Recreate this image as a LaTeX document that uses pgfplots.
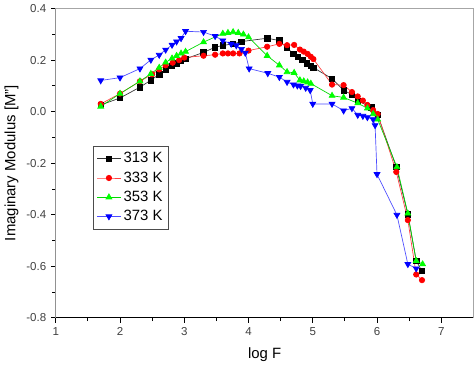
\documentclass[border=0pt]{standalone}
\usepackage{pgfplots}
\pgfplotsset{compat=1.18}
\usepackage{fontspec}
\setmainfont{Liberation Sans}
\begin{document}
\begin{tikzpicture}
\begin{axis}[
  scale only axis, width=308pt, height=228pt,
  xmin=1, xmax=7.5, ymin=-0.8, ymax=0.4,
  xtick={1,2,3,4,5,6,7}, ytick={-0.8,-0.6,-0.4,-0.2,0,0.2,0.4},
  minor x tick num=1, minor y tick num=1,
  xtick pos=bottom, ytick pos=left,
  tick align=outside, major tick length=3.5pt, minor tick length=2.5pt,
  axis line style={gray!70, line width=0.9pt},
  tick style={black, line width=0.6pt},
  /pgf/number format/assume math mode=true,
  /pgf/number format/fixed, /pgf/number format/fixed zerofill, /pgf/number format/precision=1,
  xticklabel style={/pgf/number format/precision=0, /pgf/number format/fixed zerofill=false},
  ticklabel style={font=\fontsize{8.5}{10}\selectfont, text=black!75},
  xlabel={log F}, ylabel={Imaginary Modulus [M'']},
  label style={font=\fontsize{11}{13}\selectfont},
  xlabel style={yshift=-2pt},
  ylabel style={yshift=-1pt},
  legend style={at={(0.09,0.555)}, anchor=north west, font=\fontsize{11}{13}\selectfont,
    draw=black!70, row sep=1pt, inner sep=2.5pt},
  legend cell align=left,
  legend image code/.code={\draw[mark repeat=2,mark phase=2,#1] plot coordinates {(0cm,0cm)(0.3cm,0cm)(0.6cm,0cm)};},
  every axis plot/.append style={line width=0.5pt, mark size=2pt},
]
\addplot[black!80, mark=square*, mark options={fill=black, draw=black, solid}] coordinates {
(1.70,0.026)(2.00,0.053)(2.31,0.095)(2.48,0.122)(2.61,0.145)(2.71,0.164)(2.81,0.178)(2.88,0.188)(2.95,0.197)(3.02,0.205)
(3.30,0.230)(3.48,0.250)(3.60,0.257)(3.76,0.263)(3.89,0.272)(4.29,0.285)(4.48,0.276)(4.60,0.247)(4.70,0.224)(4.77,0.213)
(4.84,0.201)(4.91,0.188)(4.97,0.178)(5.01,0.171)(5.30,0.128)(5.48,0.083)(5.61,0.066)(5.70,0.043)(5.91,0.017)(6.01,-0.013)
(6.30,-0.215)(6.48,-0.399)(6.61,-0.579)(6.70,-0.619)};
\addlegendentry{313 K}
\addplot[red!75, mark=*, mark options={fill=red, draw=red, solid}] coordinates {
(1.70,0.030)(2.00,0.070)(2.31,0.118)(2.50,0.145)(2.61,0.164)(2.71,0.180)(2.82,0.190)(2.92,0.200)(3.00,0.210)
(3.30,0.217)(3.48,0.221)(3.60,0.226)(3.68,0.226)(3.76,0.226)(3.86,0.226)(4.00,0.237)(4.29,0.252)(4.48,0.263)(4.60,0.258)(4.71,0.259)
(4.80,0.241)(4.86,0.233)(4.92,0.224)(4.97,0.213)(5.01,0.204)(5.30,0.105)(5.48,0.103)(5.61,0.076)(5.70,0.059)(5.78,0.043)
(5.85,0.026)(5.94,0.006)(6.01,-0.009)(6.30,-0.234)(6.48,-0.421)(6.61,-0.632)(6.70,-0.654)};
\addlegendentry{333 K}
\addplot[green!85!black, mark=triangle*, mark options={fill=green, draw=green, solid}, mark size=2.5pt] coordinates {
(1.70,0.020)(2.00,0.070)(2.31,0.118)(2.48,0.147)(2.61,0.171)(2.71,0.191)(2.81,0.207)(2.88,0.217)(2.95,0.226)(3.02,0.233)
(3.30,0.270)(3.60,0.303)(3.68,0.306)(3.76,0.309)(3.84,0.306)(3.92,0.300)(4.00,0.289)(4.29,0.217)(4.48,0.180)(4.60,0.154)
(4.71,0.151)(4.80,0.122)(4.86,0.118)(4.92,0.114)(4.97,0.109)(5.30,0.062)(5.48,0.055)(5.70,0.033)(5.85,0.013)(5.94,-0.009)
(6.01,-0.030)(6.31,-0.215)(6.48,-0.395)(6.61,-0.579)(6.71,-0.592)};
\addlegendentry{353 K}
\addplot[blue!70, mark=triangle*, mark options={fill=blue, draw=blue, solid, rotate=180}, mark size=2.5pt] coordinates {
(1.70,0.121)(2.00,0.132)(2.31,0.167)(2.48,0.201)(2.61,0.220)(2.71,0.240)(2.81,0.259)(2.88,0.272)(2.95,0.285)(3.02,0.312)
(3.30,0.309)(3.48,0.293)(3.60,0.276)(3.73,0.263)(3.81,0.257)(3.89,0.243)(3.95,0.228)(4.01,0.167)(4.30,0.149)(4.48,0.134)
(4.60,0.115)(4.70,0.105)(4.76,0.101)(4.81,0.099)(4.89,0.092)(4.96,0.083)(5.00,0.030)(5.30,0.030)(5.48,0.004)(5.61,0.013)
(5.70,-0.013)(5.78,-0.017)(5.85,-0.022)(5.94,-0.030)(5.97,-0.053)(6.00,-0.243)(6.31,-0.401)(6.48,-0.592)(6.61,-0.609)};
\addlegendentry{373 K}
\draw[black, line width=1pt] (rel axis cs:0,1) -- (rel axis cs:0,0) -- (rel axis cs:1,0);
\end{axis}
\end{tikzpicture}
\end{document}
